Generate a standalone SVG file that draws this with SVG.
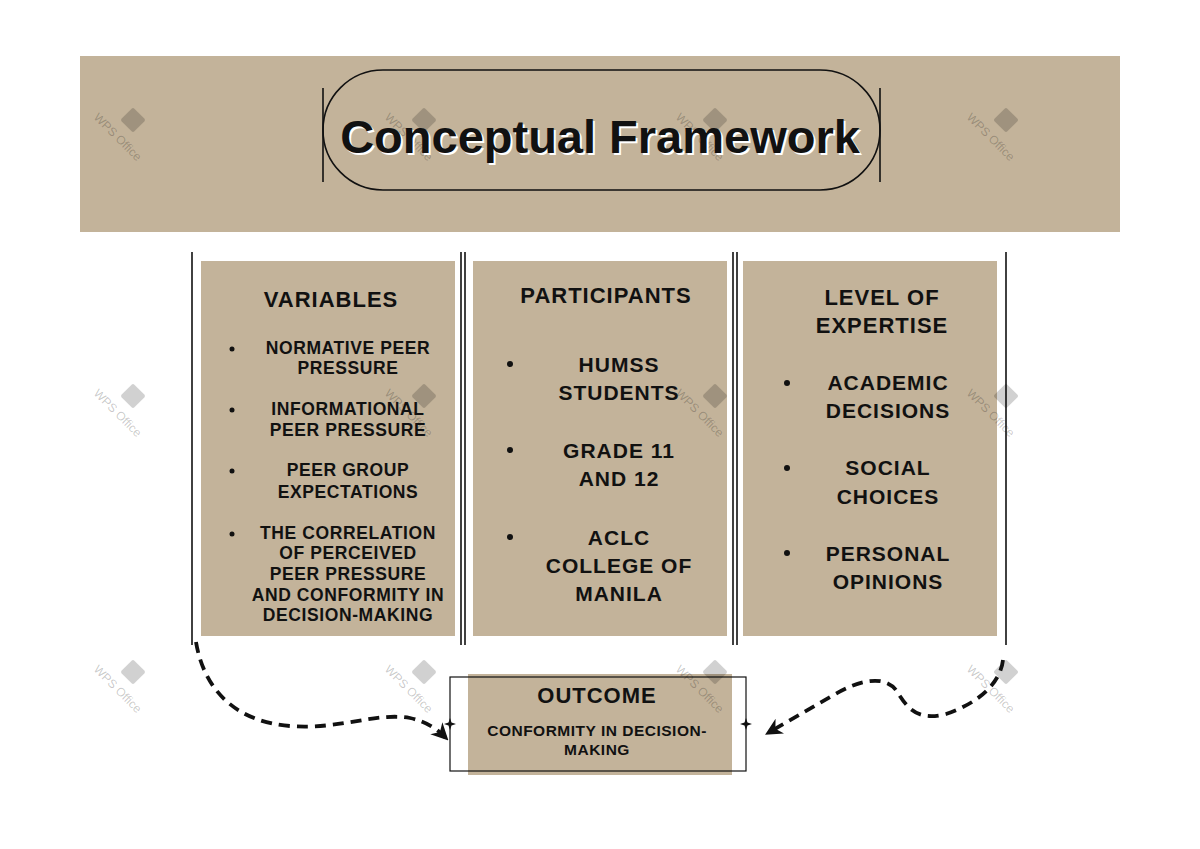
<svg xmlns="http://www.w3.org/2000/svg" width="1200" height="849" viewBox="0 0 1200 849">
<style>
.paper{fill:#c3b39a}
.t{font-family:"Liberation Sans",Arial,sans-serif;font-weight:bold;fill:#111;text-anchor:middle}
.h{font-size:22px;letter-spacing:1px}
.i{font-size:17.5px;letter-spacing:0.6px}
.b{font-size:21px;letter-spacing:1px}
.ln{stroke:#111;stroke-width:1.6;fill:none}
.dot{fill:#111}
.dash{fill:none;stroke:#111;stroke-width:3.8;stroke-dasharray:11 7;stroke-linecap:butt}
.wm{font-family:"Liberation Sans",Arial,sans-serif;font-size:12px;fill:#000;fill-opacity:0.22}
</style>
<defs>
<marker id="ah" viewBox="0 0 10 10" refX="8" refY="5" markerWidth="4.5" markerHeight="4.5" orient="auto" markerUnits="strokeWidth">
<path d="M0,0 L10,5 L0,10 L3,5 Z" fill="#111"/>
</marker>
<g id="wmk"><rect x="-9" y="-9" width="18" height="18" rx="2" fill="#000" fill-opacity="0.18" transform="rotate(45)"/><text class="wm" x="-40" y="-2" transform="rotate(45 -40 -2)">WPS Office</text></g>
</defs>
<rect width="1200" height="849" fill="#fff"/>

<g id="header">
<rect class="paper" x="80" y="56" width="1040" height="176"/>
<rect x="323" y="70" width="557" height="120" rx="60" class="ln" stroke-width="1.3"/>
<line class="ln" x1="323" y1="88" x2="323" y2="182"/>
<line class="ln" x1="880" y1="88" x2="880" y2="182"/>
</g>

<g id="frame-lines">
<line class="ln" x1="192" y1="252" x2="192" y2="645"/>
<line class="ln" x1="461" y1="252" x2="461" y2="645"/>
<line class="ln" x1="465" y1="252" x2="465" y2="645"/>
<line class="ln" x1="733" y1="252" x2="733" y2="645"/>
<line class="ln" x1="737" y1="252" x2="737" y2="645"/>
<line class="ln" x1="1006" y1="252" x2="1006" y2="645"/>
</g>

<g id="variables">
<rect class="paper" x="201" y="261" width="254" height="375"/>
</g>
<g id="participants">
<rect class="paper" x="473" y="261" width="254" height="375"/>
</g>
<g id="expertise">
<rect class="paper" x="743" y="261" width="254" height="375"/>
</g>
<g id="outcome">
<rect class="paper" x="468" y="674" width="264" height="101"/>
<rect x="450" y="677" width="296" height="94" fill="none" stroke="#111" stroke-width="1.2"/>
<path d="M450,718 L451.5,722.5 L456,724 L451.5,725.5 L450,730 L448.5,725.5 L444,724 L448.5,722.5 Z" fill="#111"/>
<path d="M746,718 L747.5,722.5 L752,724 L747.5,725.5 L746,730 L744.5,725.5 L740,724 L744.5,722.5 Z" fill="#111"/>
</g>

<g id="watermarks">
<use href="#wmk" x="133" y="120"/><use href="#wmk" x="424" y="120"/><use href="#wmk" x="715" y="120"/><use href="#wmk" x="1006" y="120"/>
<use href="#wmk" x="133" y="396"/><use href="#wmk" x="424" y="396"/><use href="#wmk" x="715" y="396"/><use href="#wmk" x="1006" y="396"/>
<use href="#wmk" x="133" y="672"/><use href="#wmk" x="424" y="672"/><use href="#wmk" x="715" y="672"/><use href="#wmk" x="1006" y="672"/>
</g>

<g id="header-text">
<text class="t" x="602" y="155" font-size="47" style="fill:#fff">Conceptual Framework</text>
<text class="t" x="600" y="153" font-size="47">Conceptual Framework</text>
</g>

<g id="variables-text">
<text class="t h" x="331" y="307">VARIABLES</text>
<circle class="dot" cx="232" cy="349" r="2.5"/>
<circle class="dot" cx="232" cy="410" r="2.5"/>
<circle class="dot" cx="232" cy="471" r="2.5"/>
<circle class="dot" cx="232" cy="534" r="2.5"/>
<text class="t i" x="348" y="354">NORMATIVE PEER</text>
<text class="t i" x="348" y="374">PRESSURE</text>
<text class="t i" x="348" y="415">INFORMATIONAL</text>
<text class="t i" x="348" y="436">PEER PRESSURE</text>
<text class="t i" x="348" y="476">PEER GROUP</text>
<text class="t i" x="348" y="498">EXPECTATIONS</text>
<text class="t i" x="348" y="539">THE CORRELATION</text>
<text class="t i" x="348" y="559">OF PERCEIVED</text>
<text class="t i" x="348" y="580">PEER PRESSURE</text>
<text class="t i" x="348" y="601">AND CONFORMITY IN</text>
<text class="t i" x="348" y="621">DECISION-MAKING</text>
</g>

<g id="participants-text">
<text class="t h" x="606" y="303">PARTICIPANTS</text>
<circle class="dot" cx="510" cy="364" r="3"/>
<circle class="dot" cx="510" cy="450" r="3"/>
<circle class="dot" cx="510" cy="537" r="3"/>
<text class="t b" x="619" y="372">HUMSS</text>
<text class="t b" x="619" y="400">STUDENTS</text>
<text class="t b" x="619" y="458">GRADE 11</text>
<text class="t b" x="619" y="486">AND 12</text>
<text class="t b" x="619" y="545">ACLC</text>
<text class="t b" x="619" y="573">COLLEGE OF</text>
<text class="t b" x="619" y="601">MANILA</text>
</g>

<g id="expertise-text">
<text class="t h" x="882" y="305">LEVEL OF</text>
<text class="t h" x="882" y="333">EXPERTISE</text>
<circle class="dot" cx="787" cy="383" r="3"/>
<circle class="dot" cx="787" cy="468" r="3"/>
<circle class="dot" cx="787" cy="553" r="3"/>
<text class="t b" x="888" y="390">ACADEMIC</text>
<text class="t b" x="888" y="418">DECISIONS</text>
<text class="t b" x="888" y="475">SOCIAL</text>
<text class="t b" x="888" y="504">CHOICES</text>
<text class="t b" x="888" y="561">PERSONAL</text>
<text class="t b" x="888" y="589">OPINIONS</text>
</g>

<g id="outcome-text">
<text class="t h" x="597" y="703">OUTCOME</text>
<text class="t" x="597" y="736" font-size="15.5" letter-spacing="0.5">CONFORMITY IN DECISION-</text>
<text class="t" x="597" y="755" font-size="15.5" letter-spacing="0.5">MAKING</text>
</g>

<g id="connectors">
<path class="dash" d="M196,642 C204,690 236,722 290,726 C340,730 375,712 410,718 C428,722 438,730 446,738" marker-end="url(#ah)"/>
<path class="dash" d="M1003,660 C1000,685 976,704 946,714 C916,722 906,706 896,690 C885,676 862,678 832,696 L768,733" marker-end="url(#ah)"/>
</g>
</svg>
